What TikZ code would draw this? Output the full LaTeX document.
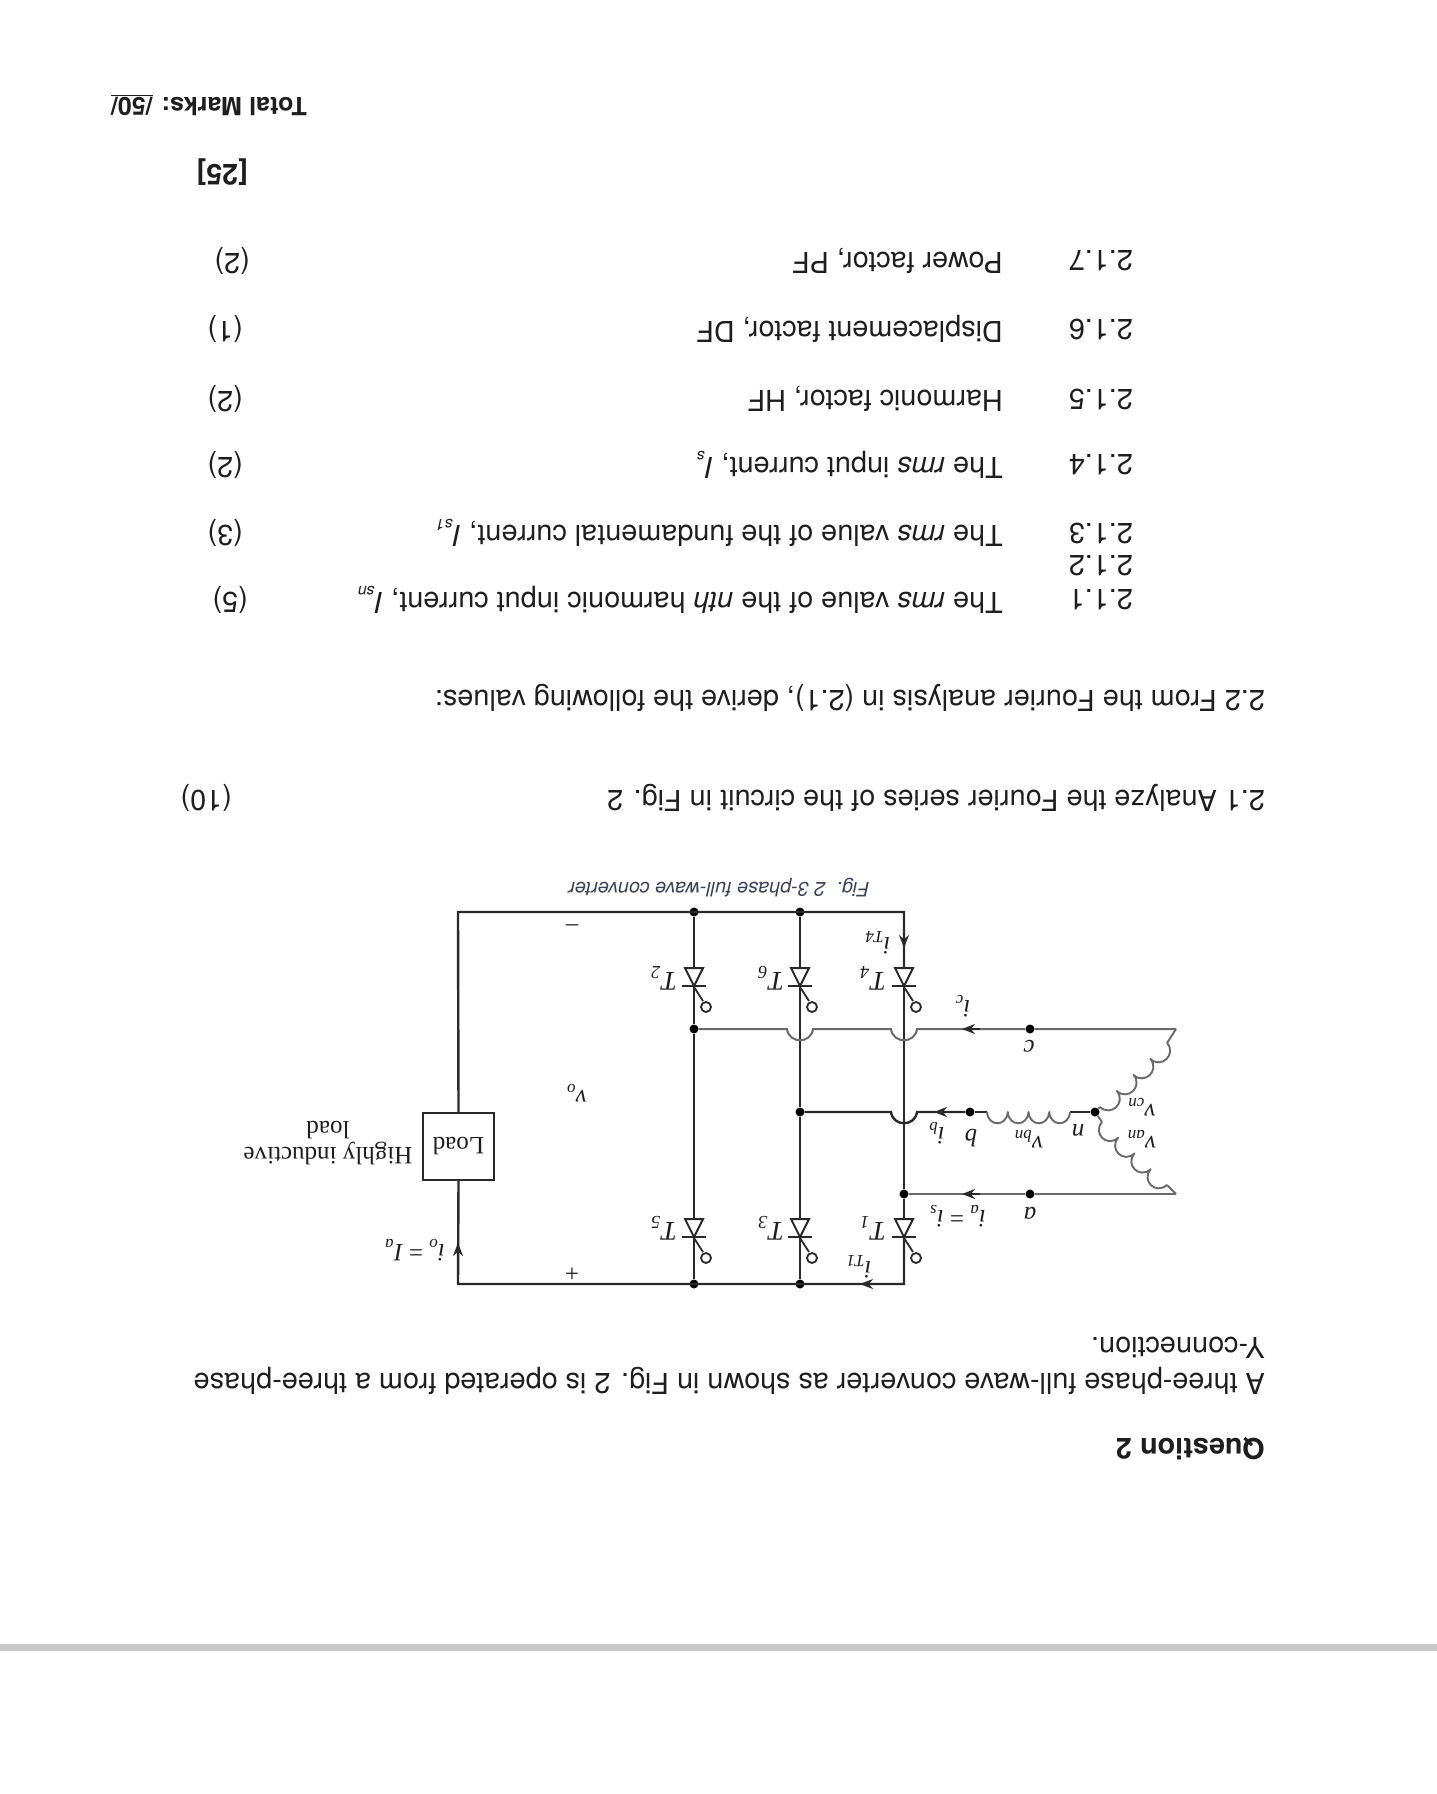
\documentclass[tikz,border=0pt]{standalone}
\usepackage{fontspec}
\usepackage{graphicx}
\usetikzlibrary{arrows.meta}
\setmainfont{Liberation Serif}
\newfontfamily\arialf{TeX Gyre Heros}
\definecolor{ink}{HTML}{1E1E1E}
\definecolor{wirec}{HTML}{2A2A2A}
\definecolor{phase}{HTML}{6A6A6A}
\definecolor{figc}{HTML}{3A4058}
\newcommand{\doctxt}{\fontsize{28.8}{32}\selectfont\arialf}
\newcommand{\cirtxt}{\fontsize{25}{28}\selectfont}
\newcommand{\sublab}{\fontsize{27}{31}\selectfont}
\newcommand{\sbs}[1]{\raisebox{-.22em}{\scalebox{.68}{#1}}}
\newcommand{\dsb}[1]{\raisebox{-.2em}{\scalebox{.55}{#1}}}
\newcommand{\vv}[2]{\textit{#1}\sbs{\textit{#2}}}
\newcommand{\vd}[2]{\textit{#1}\dsb{\textit{#2}}}
\tikzset{
  doc/.style={rotate=180,anchor=west,inner sep=0pt,text=ink,font=\doctxt},
  docb/.style={doc,font=\doctxt\bfseries},
  lab/.style={rotate=180,inner sep=0pt,text=ink,font=\sublab},
  small lab/.style={rotate=180,inner sep=0pt,text=ink,font=\cirtxt},
  wire/.style={draw=wirec,line width=2.4pt},
  phasew/.style={draw=phase,line width=2pt},
  coilw/.style={draw=phase,line width=1.9pt,line join=round},
  dotj/.style={circle,fill=black,inner sep=0pt,minimum size=9pt},
  arr/.style={draw=wirec,line width=2pt,-{Stealth[length=13pt,width=10pt]}},
}
\newcommand{\thyr}[3]{% name, x, anode y
  \coordinate (#1a) at (#2,#3);
  \coordinate (#1k) at (#2,#3+18);
  \draw[wirec,line width=2pt,fill=white] (#2-9,#3) -- (#2+9,#3) -- (#2,#3+18) -- cycle;
  \draw[wirec,line width=2.4pt] (#2-12,#3+18) -- (#2+12,#3+18);
  \draw[wirec,line width=1.8pt] (#2,#3+19) -- (#2+9,#3+33);
  \node[circle,draw=wirec,line width=1.8pt,fill=white,inner sep=0pt,minimum size=10pt] (#1g) at (#2+12,#3+39) {};
}
% four scallops from a named start: start, angle, one scallop's length
\newcommand{\scallops}[3]{%
  \begin{scope}[shift={(#1)},rotate=#2]
  \draw[coilw] (0,0)
    .. controls +(1,15) and +(-1,15) .. ++(#3,0)
    .. controls +(1,15) and +(-1,15) .. ++(#3,0)
    .. controls +(1,15) and +(-1,15) .. ++(#3,0)
    .. controls +(1,15) and +(-1,15) .. ++(#3,0);
  \end{scope}}
\begin{document}
\begin{tikzpicture}[x=1pt,y=-1pt]
\useasboundingbox (0,0) rectangle (1437,1794);
\fill[white] (0,0) rectangle (1437,1794);
\fill[black!22] (0,1644) rectangle (1437,1651);

% page text
\node[docb] (tm) at (307,105) {\fontsize{25}{28}\selectfont Total Marks: \underline{/50/}};
\node[docb] (m25) at (248,172) {[25]};
\node[doc] (n217) at (1133,261) {2.1.7};
\node[doc] (t217) at (1003,261) {Power factor, PF};
\node[doc] (p217) at (250,261) {(2)};
\node[doc] (n216) at (1133,329) {2.1.6};
\node[doc] (t216) at (1003,329) {Displacement factor, DF};
\node[doc] (p216) at (243,329) {(1)};
\node[doc] (n215) at (1133,399) {2.1.5};
\node[doc] (t215) at (1003,399) {Harmonic factor, HF};
\node[doc] (p215) at (243,399) {(2)};
\node[doc] (n214) at (1133,465) {2.1.4};
\node[doc] (t214) at (1003,465) {The \textit{rms} input current, \vd{I}{s}};
\node[doc] (p214) at (243,465) {(2)};
\node[doc] (n213) at (1133,533) {2.1.3};
\node[doc] (t213) at (1003,533) {The \textit{rms} value of the fundamental current, \vd{I}{s1}};
\node[doc] (p213) at (243,533) {(3)};
\node[doc] (n212) at (1133,566) {2.1.2};
\node[doc] (n211) at (1133,600) {2.1.1};
\node[doc] (t211) at (1003,600) {The \textit{rms} value of the \textit{nth} harmonic input current, \vd{I}{sn}};
\node[doc] (p211) at (248,600) {(5)};
\node[doc] (q22) at (1265,698) {2.2 From the Fourier analysis in (2.1), derive the following values:};
\node[doc] (q21) at (1265,798) {2.1 Analyze the Fourier series of the circuit in Fig. 2};
\node[doc] (p21) at (232,798) {(10)};
\node[doc] (intro2) at (1265,1348) {Y-connection.};
\node[doc] (intro1) at (1265,1381) {A three-phase full-wave converter as shown in Fig. 2 is operated from a three-phase};
\node[docb] (qh) at (1265,1449) {Question 2};
\node[rotate=180,inner sep=0pt,text=figc,font=\fontsize{19.8}{22}\selectfont\arialf\itshape] (figcap) at (719,888) {Fig.\ \ 2 3-phase full-wave converter};

% corners and junctions
\coordinate (tl) at (458,912);
\coordinate (tr) at (904,912);
\coordinate (bl) at (458,1284);
\coordinate (br) at (904,1284);
\node[draw=wirec,line width=2pt,minimum width=71pt,minimum height=67pt,inner sep=0pt,font=\fontsize{25}{28}\selectfont,text=ink] (loadb) at (458.5,1146.5) {\rotatebox{180}{Load}};

\thyr{Tf}{904}{968}
\thyr{Ts}{800}{968}
\thyr{Tt}{694}{968}
\thyr{To}{904}{1219}
\thyr{Tr}{800}{1219}
\thyr{Tv}{694}{1219}

\node[dotj] (dt2) at (694,912) {};
\node[dotj] (dt6) at (800,912) {};
\node[dotj] (db5) at (694,1284) {};
\node[dotj] (db3) at (800,1284) {};
\node[dotj] (jc) at (694,1029) {};
\node[dotj] (jb) at (800,1112) {};
\node[dotj] (ja) at (904,1194) {};
\node[dotj] (dc) at (1030,1029) {};
\node[dotj] (db) at (970,1112) {};
\node[dotj] (da) at (1030,1194) {};
\node[dotj] (nn) at (1095,1112) {};

% power loop and bridge legs
\draw[wire] (loadb.north) -- (tl) -- (tr) -- (Tfa);
\draw[wire] (Tfk) -- (ja) -- (Toa);
\draw[wire] (Tok) -- (br) -- (bl) -- (loadb.south);
\draw[wire] (dt6) -- (Tsa);
\draw[wire] (Tsk) -- (jb) -- (Tra);
\draw[wire] (Trk) -- (db3);
\draw[wire] (dt2) -- (Tta);
\draw[wire] (Ttk) -- (jc) -- (Tva);
\draw[wire] (Tvk) -- (db5);

% phase lines with jump arcs
\coordinate (cend) at (1176,1029);
\coordinate (aend) at (1176,1194);
\coordinate (jc1) at (917,1029);
\coordinate (jc2) at (891,1029);
\coordinate (jc3) at (813,1029);
\coordinate (jc4) at (787,1029);
\draw[phasew] (cend) -- (dc) -- (jc1) .. controls +(-2,15) and +(2,15) .. (jc2) -- (jc3) .. controls +(-2,15) and +(2,15) .. (jc4) -- (jc);
\draw[phasew] (aend) -- (da) -- (ja);
\coordinate (jb1) at (917,1112);
\coordinate (jb2) at (891,1112);
\draw[wire] (db) -- (jb1) .. controls +(-2,15) and +(2,15) .. (jb2) -- (jb);

% windings
\coordinate (bs) at (987,1112);
\coordinate (be) at (1070,1112);
\coordinate (as) at (1102,1122);
\coordinate (ae) at (1167,1185);
\coordinate (cs) at (1100,1107);
\coordinate (ce) at (1167,1043);
\draw[wire] (db) -- (bs);
\draw[wire] (be) -- (nn);
\scallops{bs}{0}{20.75}
\draw[coilw] (nn) -- (as);
\scallops{as}{-44.1}{22.6}
\draw[coilw] (ae) -- (aend);
\draw[coilw] (nn) -- (cs);
\scallops{cs}{43.7}{23.2}
\draw[coilw] (ce) -- (cend);

% current arrows
\coordinate (ac1) at (980,1029); \coordinate (ac2) at (962,1029);
\draw[arr] (ac1) -- (ac2);
\coordinate (ab1) at (952,1112); \coordinate (ab2) at (934,1112);
\draw[arr] (ab1) -- (ab2);
\coordinate (aa1) at (980,1194); \coordinate (aa2) at (962,1194);
\draw[arr] (aa1) -- (aa2);
\coordinate (at1) at (878,1284); \coordinate (at2) at (860,1284);
\draw[arr] (at1) -- (at2);
\coordinate (at3) at (904,930); \coordinate (at4) at (904,948);
\draw[arr] (at3) -- (at4);
\coordinate (ao1) at (458,1262); \coordinate (ao2) at (458,1243);
\draw[arr] (ao1) -- (ao2);

% circuit labels
\node[lab] (lT2) at (664,978) {\vv{T}{2}};
\node[lab] (lT5) at (664,1228) {\vv{T}{5}};
\node[lab] (lT6) at (771,978) {\vv{T}{6}};
\node[lab] (lT3) at (771,1228) {\vv{T}{3}};
\node[lab] (lT4) at (873,978) {\vv{T}{4}};
\node[lab] (lT1) at (873,1228) {\vv{T}{1}};
\node[small lab] (liT4) at (878,943) {\vv{i}{T4}};
\node[small lab] (liT1) at (859,1267) {\vv{i}{T1}};
\node[small lab] (lic) at (963,1006) {\vv{i}{c}};
\node[small lab] (lc) at (1029,1046) {\textit{c}};
\node[small lab] (la) at (1030,1213) {\textit{a}};
\node[small lab] (lia) at (958,1216) {\vv{i}{a} = \vv{i}{s}};
\node[small lab] (lb) at (971,1138) {\textit{b}};
\node[small lab] (lib) at (937,1133) {\vv{i}{b}};
\node[small lab] (lvbn) at (1029,1139) {\vv{v}{bn}};
\node[small lab] (ln) at (1078,1130) {\textit{n}};
\node[small lab] (lvan) at (1142,1139) {\vv{v}{an}};
\node[small lab] (lvcn) at (1142,1107) {\vv{v}{cn}};
\node[small lab] (lvo) at (577,1093) {\vv{v}{o}};
\node[small lab] (lminus) at (572,923) {--};
\node[small lab] (lplus) at (572,1273) {+};
\node[small lab] (lhi) at (328,1153) {Highly inductive};
\node[small lab] (llo) at (328,1130) {load};
\node[small lab] (lio) at (415,1250) {\vv{i}{o} = \vv{I}{a}};
\end{tikzpicture}
\end{document}
